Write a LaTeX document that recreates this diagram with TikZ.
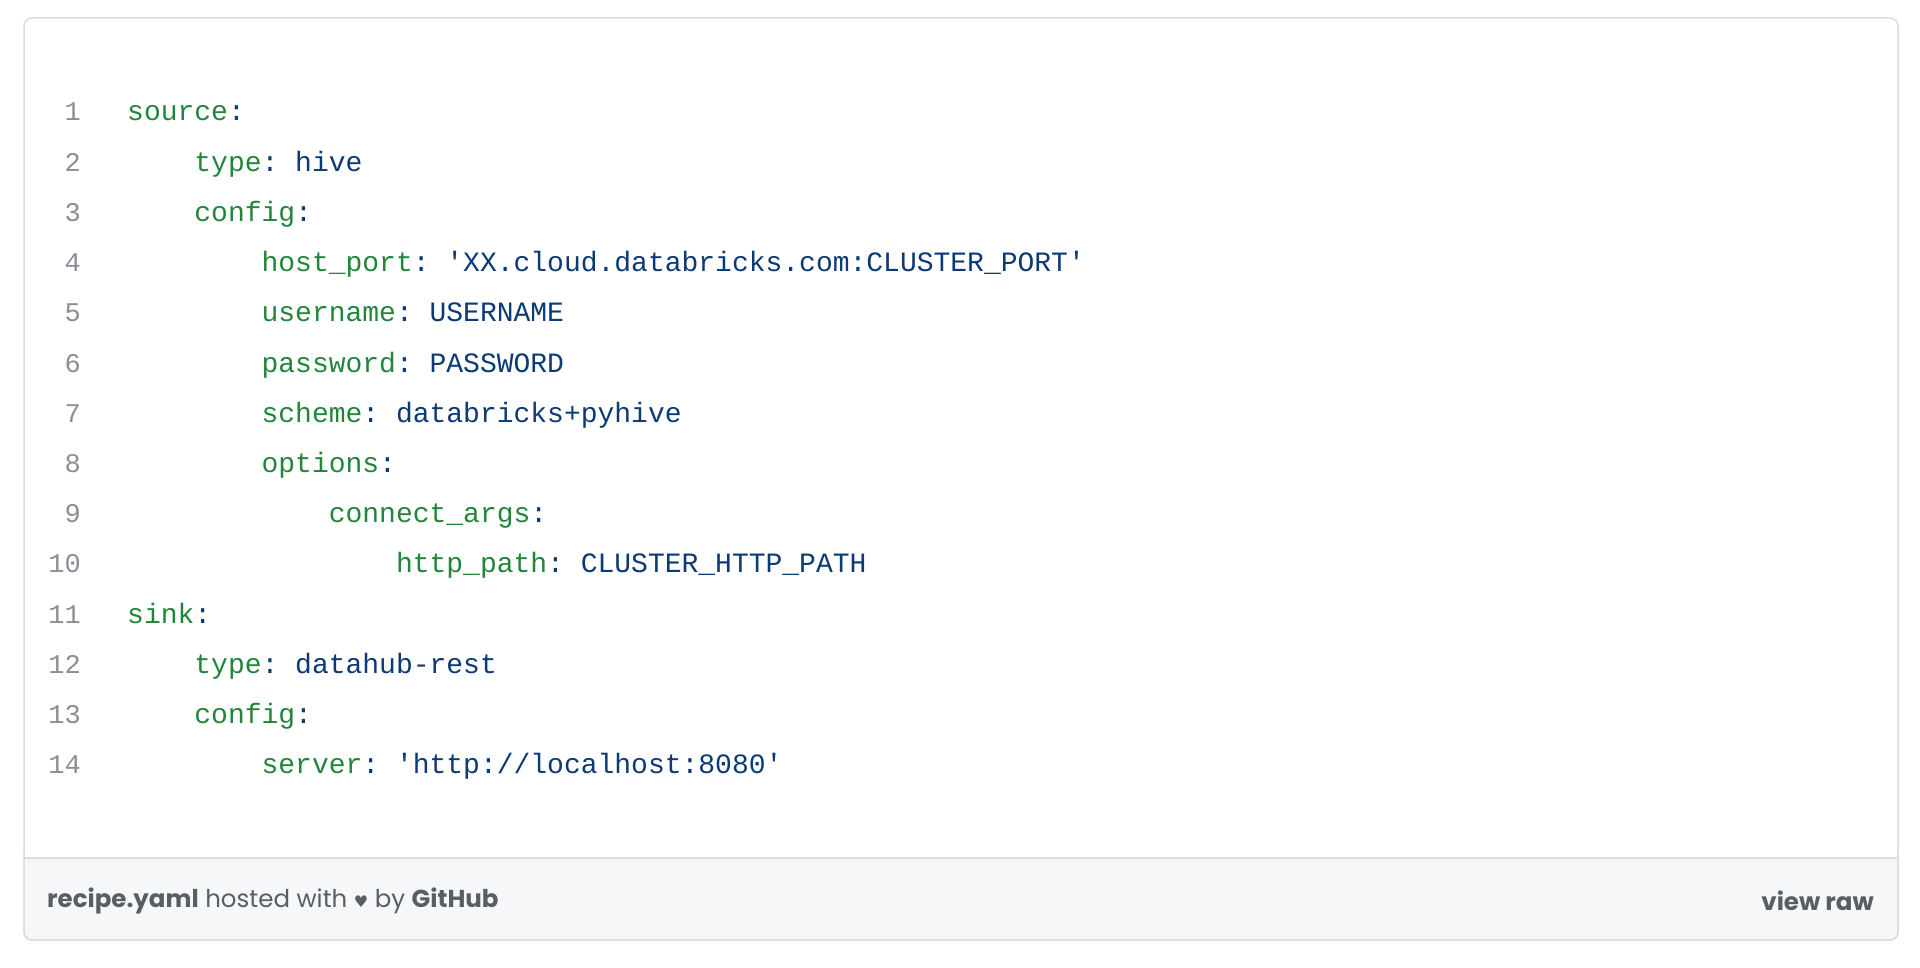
\documentclass[tikz,border=0pt]{standalone}
\usepackage{fontspec}
\setmonofont{Liberation Mono}
\setsansfont{Poppins}
\newfontfamily\symf{DejaVu Sans}
\definecolor{kc}{HTML}{22863A}
\definecolor{vc}{HTML}{0B3A75}
\definecolor{nc}{HTML}{8A8F95}
\definecolor{fc}{HTML}{5A5E63}
\definecolor{bc}{HTML}{DADDE0}
\definecolor{fb}{HTML}{F6F7F8}
\begin{document}
\begin{tikzpicture}[x=1pt,y=-1pt,
  ln/.style={anchor=base east,inner sep=0pt,font=\fontsize{27}{27}\ttfamily,text=nc},
  cd/.style={anchor=base west,inner sep=0pt,font=\fontsize{28}{28}\ttfamily,text=vc},
  ft/.style={inner sep=0pt,font=\fontsize{24.5}{24.5}\sffamily,text=fc}]
\useasboundingbox (0,0) rectangle (1920,968);
\fill[white] (0,0) rectangle (1920,968);
\path[draw=bc,line width=1.5pt,fill=white,rounded corners=8pt] (24,18) rectangle (1898,940);
\path[fill=fb,rounded corners=8pt] (24.75,858) rectangle (1897.25,939.25);
\fill[fb] (24.75,858) rectangle (1897.25,880);
\draw[bc,line width=1.5pt] (24,858) -- (1898,858);
\draw[bc,line width=1.5pt,rounded corners=8pt] (24,850) -- (24,940) -- (1898,940) -- (1898,850);
\def\K#1{\textcolor{kc}{#1}}
\foreach \n [count=\i] in {1,...,14}{
  \node[ln] (n\i) at (81,{121+50.2*(\i-1)}) {\n};
}
\newcommand\CL[3]{\node[cd] (c#1) at ({127+16.8*4*#2},{121+50.2*(#1-1)}) {#3};}
\CL{1}{0}{\K{source}:}
\CL{2}{1}{\K{type}: hive}
\CL{3}{1}{\K{config}:}
\CL{4}{2}{\K{host\_port}: 'XX.cloud.databricks.com:CLUSTER\_PORT'}
\CL{5}{2}{\K{username}: USERNAME}
\CL{6}{2}{\K{password}: PASSWORD}
\CL{7}{2}{\K{scheme}: databricks+pyhive}
\CL{8}{2}{\K{options}:}
\CL{9}{3}{\K{connect\_args}:}
\CL{10}{4}{\K{http\_path}: CLUSTER\_HTTP\_PATH}
\CL{11}{0}{\K{sink}:}
\CL{12}{1}{\K{type}: datahub-rest}
\CL{13}{1}{\K{config}:}
\CL{14}{2}{\K{server}: 'http://localhost:8080'}
\node[ft,anchor=west] (foot) at (47,901) {\textbf{recipe.yaml} hosted with {\symf\fontsize{16}{16}\selectfont ♥} by \textbf{GitHub}};
\node[ft,anchor=east] (raw) at (1874,901) {\textbf{view raw}};
\end{tikzpicture}
\end{document}
